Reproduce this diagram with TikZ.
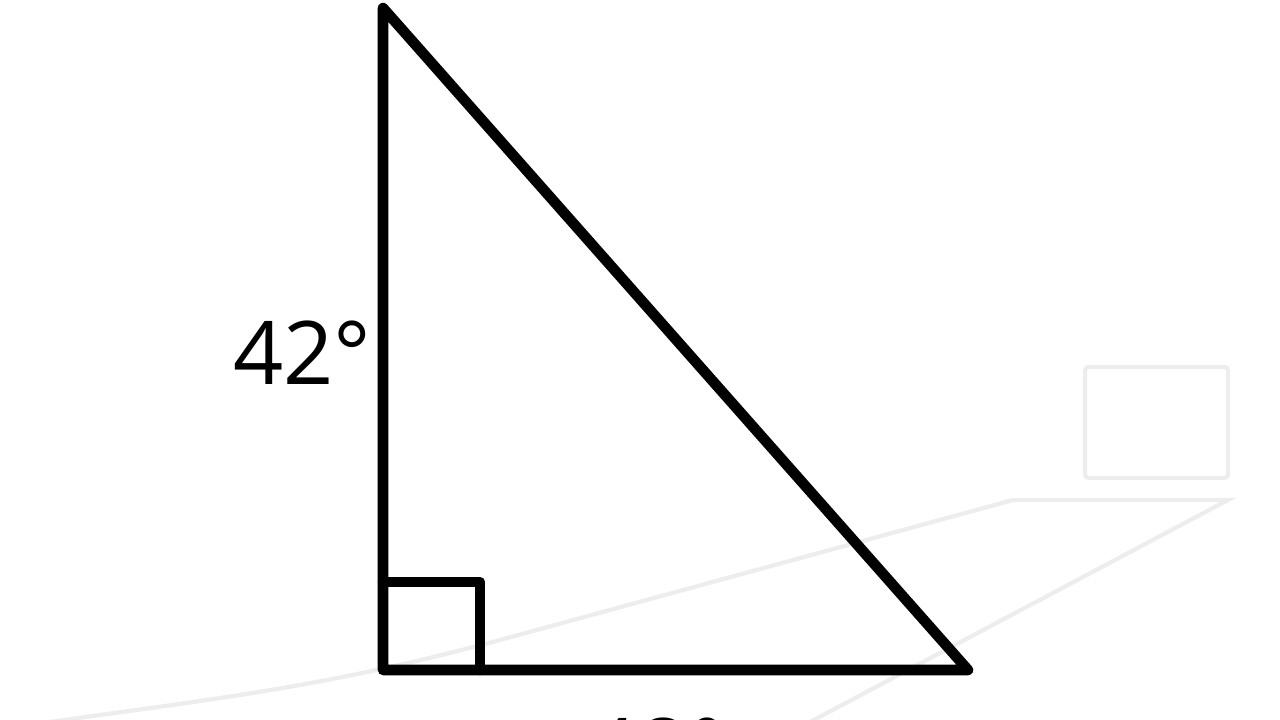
\documentclass[tikz,border=0pt]{standalone}
\usepackage{fontspec}
\setmainfont{Open Sans}
\tikzset{
  edge/.style={line width=3pt, line join=round, line cap=round},
  faint/.style={line width=1.2pt, draw=black!7},
  angle label/.style={font=\fontsize{25}{28}\selectfont, inner sep=0pt}
}
\begin{document}
\begin{tikzpicture}
      \useasboundingbox (0,0) rectangle (12.8,7.2);
      % faint background shapes
      \draw[faint, rounded corners=1pt] (10.85,3.53) rectangle (12.28,2.42);
      \coordinate (p) at (10.13,2.20);
      \coordinate (q) at (12.28,2.20);
      \draw[faint] (0.5,-0.02) to[out=8, in=195] (5.0,0.80) -- (p) -- (q) -- (8.10,-0.02);
      % triangle
      \coordinate (A) at (3.83,7.12);
      \coordinate (B) at (3.83,0.50);
      \coordinate (C) at (9.68,0.50);
      \draw[edge] (A) -- (B) -- (C) -- cycle;
      \draw[edge] (3.83,1.38) -- (4.80,1.38) -- (4.80,0.50);
      % labels
      \node[angle label, anchor=base east] (a) at (3.72,3.35) {42°};
      \node[angle label, anchor=base] (c) at (6.57,-0.62) {48°};
    \end{tikzpicture}
\end{document}
